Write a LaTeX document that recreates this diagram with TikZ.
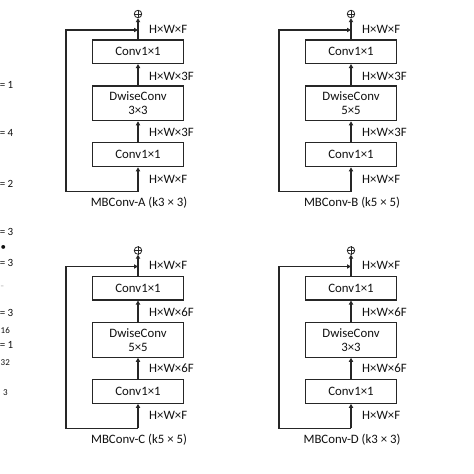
\documentclass[tikz,border=0pt]{standalone}
\usepackage{fontspec}
\setmainfont{Carlito}
\usetikzlibrary{arrows.meta}
\definecolor{linec}{HTML}{262626}
\definecolor{txtc}{HTML}{111111}
\definecolor{fadec}{HTML}{BBBBBB}
\newcommand\mainf{\fontsize{12.8}{14}\selectfont}
\newcommand\smallf{\fontsize{11}{13}\selectfont}
\newcommand\tinyf{\fontsize{9}{11}\selectfont}
\tikzset{
  blk/.style={draw=linec, line width=1.3pt, minimum width=91.5pt, inner sep=0pt, align=center, font=\mainf, text=txtc},
  lbl/.style={anchor=west, inner sep=0pt, font=\mainf, text=txtc},
  conn/.style={draw=linec, line width=1.1pt, -{Triangle[length=4pt,width=4.2pt]}},
  plainln/.style={draw=linec, line width=0.8pt},
  frag/.style={inner sep=0pt, text=txtc, font=\smallf},
}
\newcommand\mbpanel[6]{%
\begin{scope}[shift={(#2,#3)}]
  \node[blk, minimum height=24pt] (#1c1) at (0,154.7) {Conv1×1};
  \node[blk, minimum height=34.7pt] (#1dw) at (0,103.3) {DwiseConv\\#5};
  \node[blk, minimum height=23.3pt] (#1c2) at (0,51.7) {Conv1×1};
  \node[circle, draw=linec, line width=0.8pt, minimum size=7.5pt, inner sep=0pt] (#1p) at (0,14) {};
  \draw[plainln] (#1p.north) -- (#1p.south) (#1p.west) -- (#1p.east);
  \coordinate (#1in) at (0,191.7);
  \coordinate (#1tl) at (-72,30);
  \coordinate (#1j) at (0,30);
  \draw[conn] (#1in) -| (#1tl) -- (#1j);
  \draw[conn] (#1in) -- (#1c1.south);
  \draw[conn] (#1c1.north) -- (#1dw.south);
  \draw[conn] (#1dw.north) -- (#1c2.south);
  \draw[conn] (#1c2.north) -- (#1p.south);
  \node[lbl] (#1l1) at (11,179) {H×W×F};
  \node[lbl] (#1l2) at (11,132) {H×W×#4F};
  \node[lbl] (#1l3) at (11,76) {H×W×#4F};
  \node[lbl] (#1l4) at (11,29) {H×W×F};
  \node[font=\mainf, text=txtc, inner sep=0pt] (#1cap) at (1,203) {#6};
\end{scope}}
\begin{document}
\begin{tikzpicture}[x=1pt, y=-1pt]
  \useasboundingbox (0,0) rectangle (474,474);
  \fill[white] (0,0) rectangle (474,474);
  \mbpanel{a}{138}{0}{3}{3×3}{MBConv-A (k3 × 3)}
  \mbpanel{b}{351}{0}{3}{5×5}{MBConv-B (k5 × 5)}
  \mbpanel{c}{138}{236.5}{6}{5×5}{MBConv-C (k5 × 5)}
  \mbpanel{d}{351}{236.5}{6}{3×3}{MBConv-D (k3 × 3)}
  % fragments at the left edge
  \node[frag, anchor=east] (f1) at (13.5,84.5) {= 1};
  \node[frag, anchor=east] (f2) at (13.5,133) {= 4};
  \node[frag, anchor=east] (f3) at (13.5,184) {= 2};
  \node[frag, anchor=east] (f4) at (13.5,232) {= 3};
  \node[frag, anchor=west] (f5) at (0.5,248) {•};
  \node[frag, anchor=east] (f6) at (13.5,263) {= 3};
  \node[frag, anchor=west, text=fadec] (f7) at (0.5,288) {-};
  \node[frag, anchor=east] (f8) at (13.5,312.5) {= 3};
  \node[frag, anchor=west, font=\tinyf] (f9) at (0.5,330) {16};
  \node[frag, anchor=east] (f10) at (13.5,345) {= 1};
  \node[frag, anchor=west, font=\tinyf] (f11) at (0.5,363) {32};
  \node[frag, anchor=west, font=\tinyf] (f12) at (3,393) {3};
\end{tikzpicture}
\end{document}
